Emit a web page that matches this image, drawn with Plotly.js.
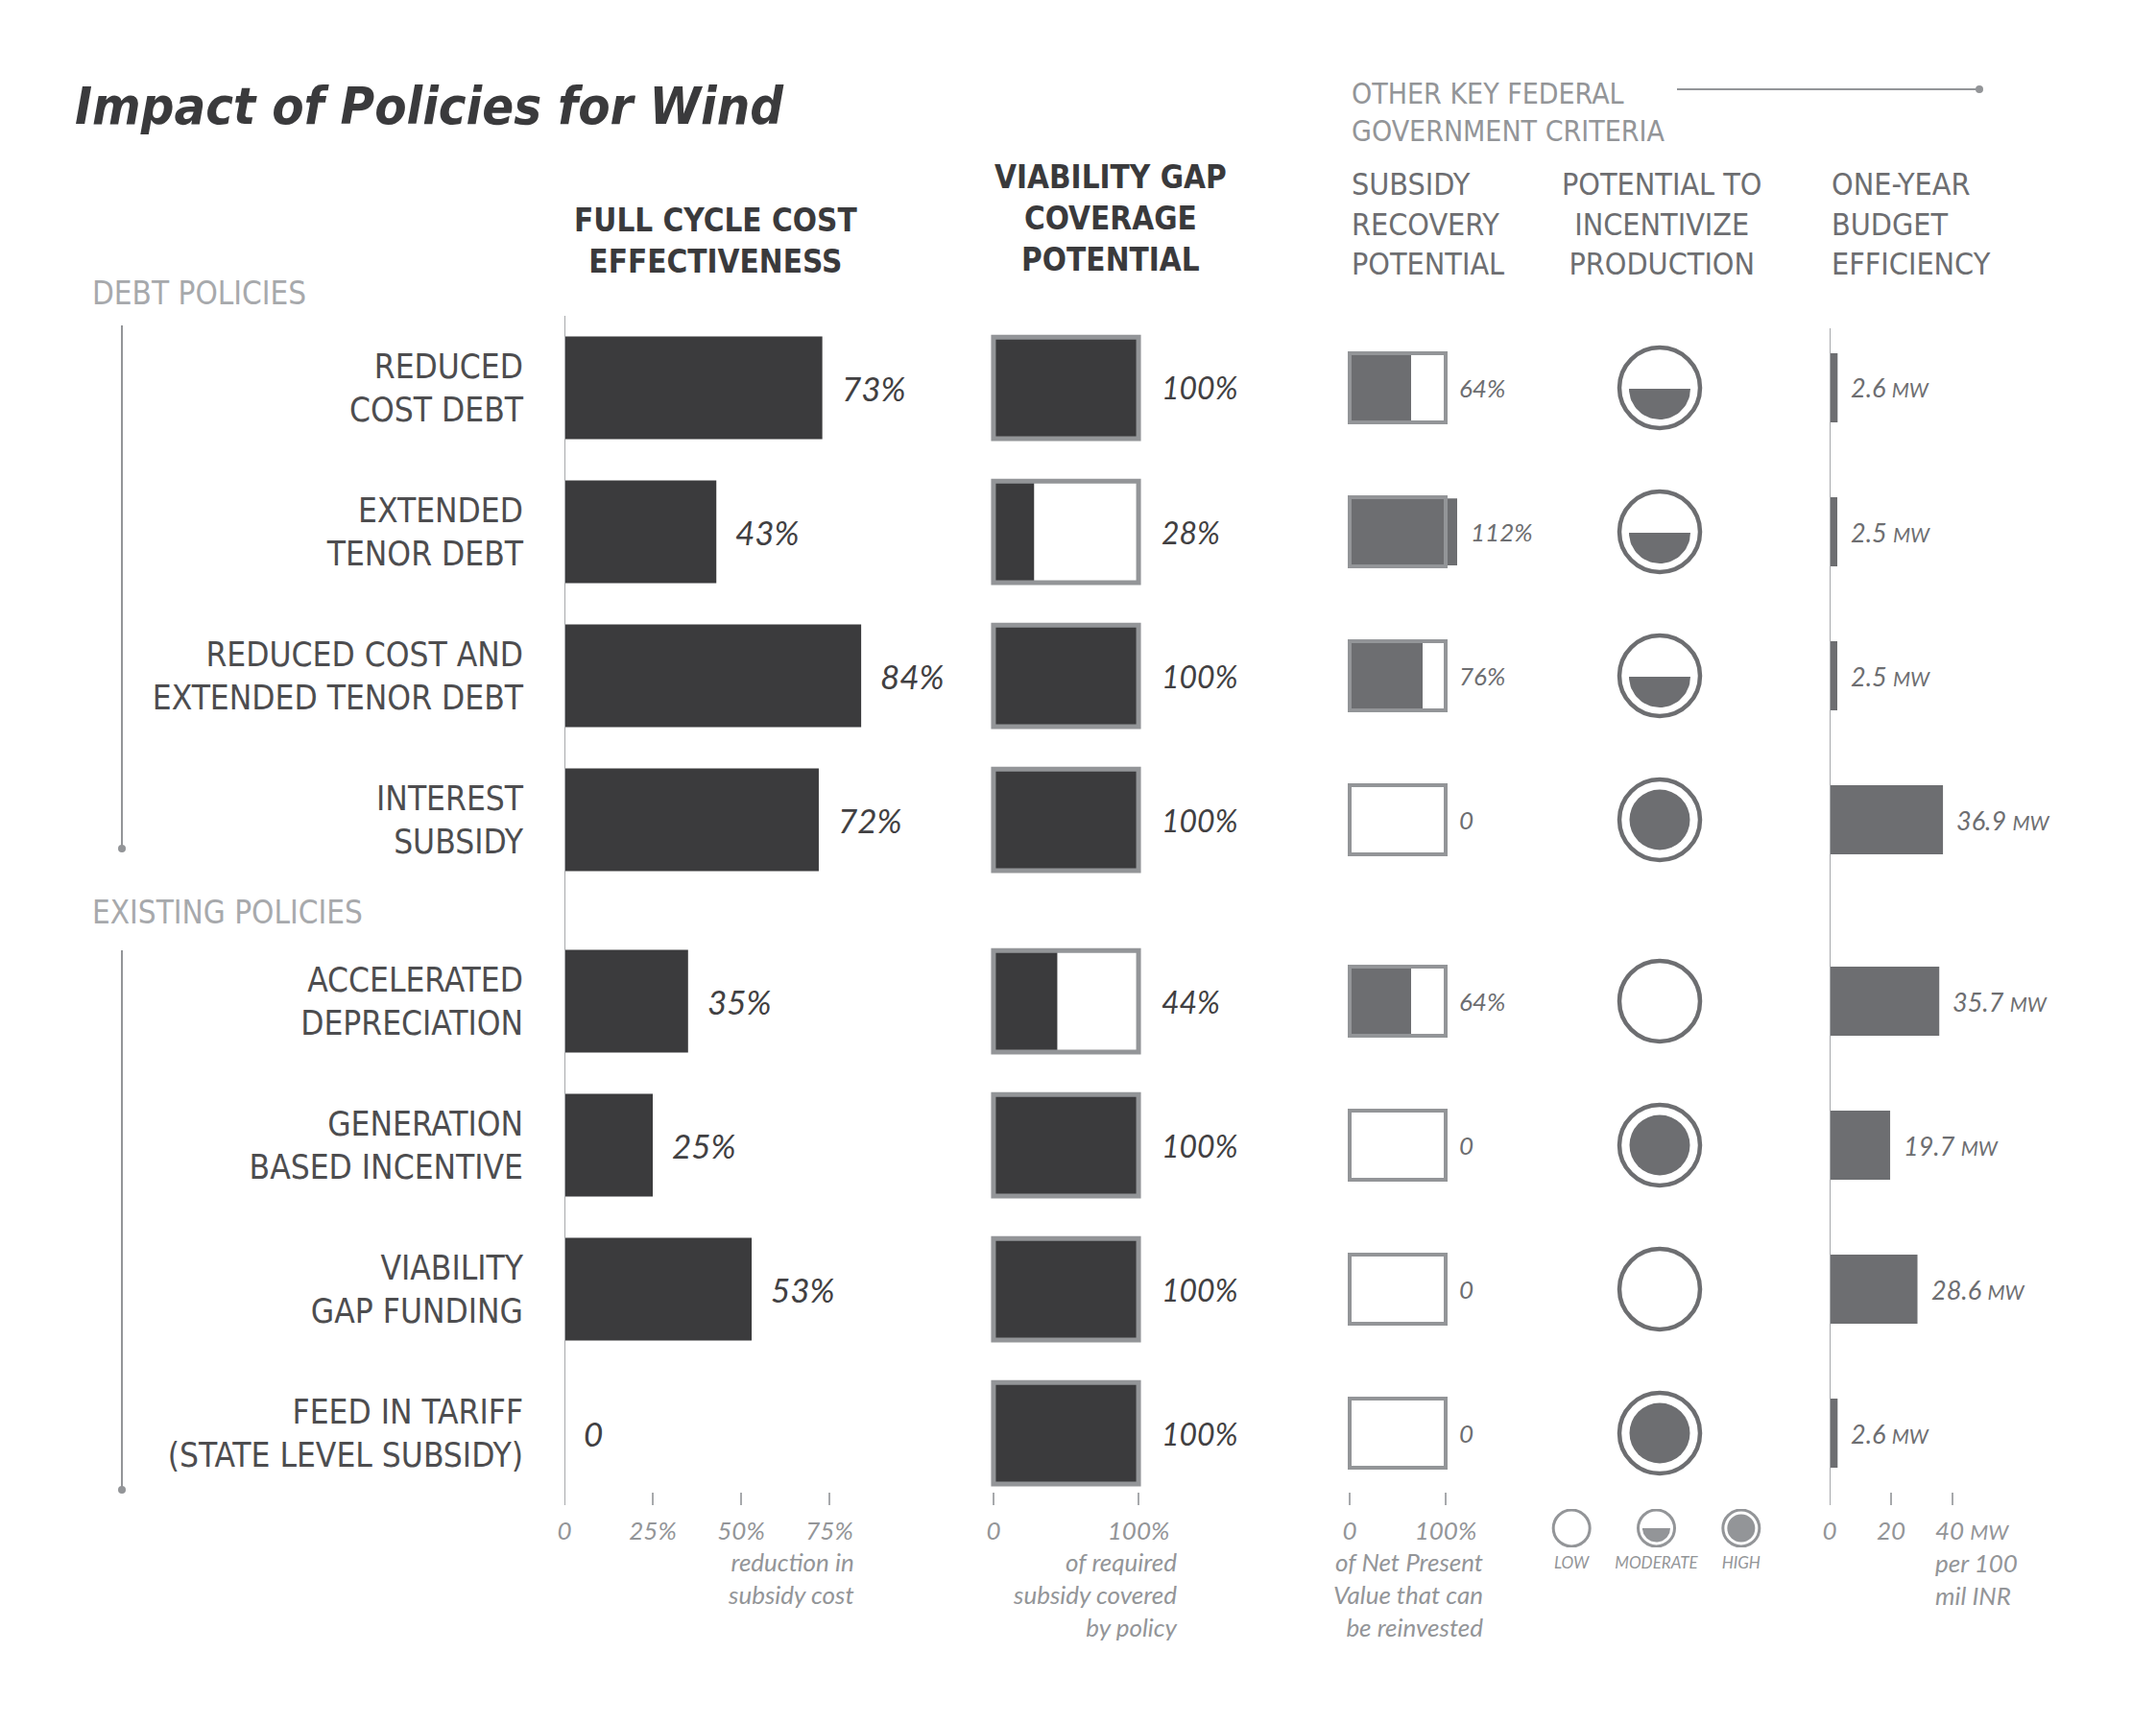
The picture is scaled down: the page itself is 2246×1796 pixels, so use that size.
<!DOCTYPE html>
<html>
<head>
<meta charset="utf-8">
<script src="https://cdn.plot.ly/plotly-3.0.1.min.js"></script>
<style>
  html, body { margin: 0; padding: 0; background: #fff; }
  #chart { width: 2246px; height: 1796px; }
</style>
</head>
<body>
<div id="chart"></div>
<script>
// policies, top group then bottom group
var debtPolicies = ['REDUCED<br>COST DEBT', 'EXTENDED<br>TENOR DEBT', 'REDUCED COST AND<br>EXTENDED TENOR DEBT', 'INTEREST<br>SUBSIDY'];
var existingPolicies = ['ACCELERATED<br>DEPRECIATION', 'GENERATION<br>BASED INCENTIVE', 'VIABILITY<br>GAP FUNDING', 'FEED IN TARIFF<br>(STATE LEVEL SUBSIDY)'];

var costEffectiveness = [73, 43, 84, 72, 35, 25, 53, 0];        // % reduction in subsidy cost
var gapCoverage = [100, 28, 100, 100, 44, 100, 100, 100];        // % of required subsidy covered
var subsidyRecovery = [64, 112, 76, 0, 64, 0, 0, 0];            // % of NPV that can be reinvested
var productionPotential = ['MODERATE', 'MODERATE', 'MODERATE', 'HIGH', 'LOW', 'HIGH', 'LOW', 'HIGH'];
var budgetEfficiency = [2.6, 2.5, 2.5, 36.9, 35.7, 19.7, 28.6, 2.6]; // MW per 100 mil INR

var levels = ['LOW', 'MODERATE', 'HIGH'];
var costTicks = [0, 25, 50, 75];
var costTickText = ['0', '25%', '50%', '75%'];
var pctTicks = [0, 100];
var pctTickText = ['0', '100%'];
var budgetTicks = [0, 20, 40];
var budgetTickText = ['0', '20', ''];

var W = 2246, H = 1796;
function px(x) { return x / W; }
function py(y) { return 1 - y / H; }

var NARROW = '"Liberation Sans Narrow", "DejaVu Sans Condensed", Roboto, sans-serif';
var HUMAN = 'Lato, "Open Sans", sans-serif';
var DARK = '#3b3b3d', MID = '#6d6e71', LIGHT = '#939598', PALE = '#a7a9ac', TEXT = '#414042';

// group geometry
var g1Top = 329, g1Bot = 929, g2Top = 968, g2Bot = 1568;
var rowPx = (g1Bot - g1Top) / 4;
var groups = [
  {yaxis: 'y', start: 0},
  {yaxis: 'y2', start: 4}
];
var rows = [0, 1, 2, 3];

var data = [];
var annotations = [];

function halfDisk(cx, cy, r, unitX, unitY, sign) {
  var xs = [], ys = [];
  for (var k = 0; k <= 40; k++) {
    var t = Math.PI * k / 40;
    xs.push(cx + r * Math.cos(t) / unitX);
    ys.push(cy + sign * r * Math.sin(t) / unitY);
  }
  return {x: xs, y: ys};
}

groups.forEach(function (g) {
  var sl = function (arr) { return arr.slice(g.start, g.start + 4); };
  var cost = sl(costEffectiveness), gap = sl(gapCoverage), rec = sl(subsidyRecovery);
  var prod = sl(productionPotential), bud = sl(budgetEfficiency);

  // full cycle cost effectiveness
  data.push({type: 'bar', orientation: 'h', x: cost, y: rows, xaxis: 'x', yaxis: g.yaxis,
    width: 0.713, marker: {color: DARK}, hoverinfo: 'skip'});

  // viability gap coverage: fill + outlined box
  data.push({type: 'bar', orientation: 'h', x: gap, y: rows, xaxis: 'x2', yaxis: g.yaxis,
    width: 0.68, marker: {color: DARK}, hoverinfo: 'skip'});
  data.push({type: 'bar', orientation: 'h', x: rows.map(function () { return 100; }), y: rows,
    xaxis: 'x2', yaxis: g.yaxis, width: 0.705,
    marker: {color: 'rgba(0,0,0,0)', line: {color: LIGHT, width: 5}}, hoverinfo: 'skip'});

  // subsidy recovery
  data.push({type: 'bar', orientation: 'h', x: rec, y: rows, xaxis: 'x3', yaxis: g.yaxis,
    width: 0.465, marker: {color: MID}, hoverinfo: 'skip'});
  data.push({type: 'bar', orientation: 'h', x: rows.map(function () { return 100; }), y: rows,
    xaxis: 'x3', yaxis: g.yaxis, width: 0.48,
    marker: {color: 'rgba(0,0,0,0)', line: {color: LIGHT, width: 4}}, hoverinfo: 'skip'});

  // potential to incentivize production
  data.push({type: 'scatter', mode: 'markers', x: rows.map(function () { return 0; }), y: rows,
    xaxis: 'x4', yaxis: g.yaxis, hoverinfo: 'skip',
    marker: {symbol: 'circle-open', size: 84, color: MID, line: {width: 4.5, color: MID}}});
  var highRows = rows.filter(function (r) { return prod[r] === 'HIGH'; });
  data.push({type: 'scatter', mode: 'markers', x: highRows.map(function () { return 0; }), y: highRows,
    xaxis: 'x4', yaxis: g.yaxis, hoverinfo: 'skip',
    marker: {symbol: 'circle', size: 63, color: MID}});
  rows.filter(function (r) { return prod[r] === 'MODERATE'; }).forEach(function (r) {
    var hd = halfDisk(0, r + 1 / rowPx, 32, 1, rowPx, 1);
    data.push({type: 'scatter', mode: 'lines', x: hd.x, y: hd.y, xaxis: 'x4', yaxis: g.yaxis,
      fill: 'toself', fillcolor: MID, line: {width: 0, color: MID}, hoverinfo: 'skip'});
  });

  // one-year budget efficiency
  data.push({type: 'bar', orientation: 'h', x: bud, y: rows, xaxis: 'x5', yaxis: g.yaxis,
    width: 0.48, marker: {color: MID}, hoverinfo: 'skip'});

  rows.forEach(function (r) {
    annotations.push({xref: 'x', yref: g.yaxis, x: cost[r], y: r, xanchor: 'left', xshift: 18,
      showarrow: false, text: cost[r] === 0 ? '0' : cost[r] + '%',
      font: {family: HUMAN, size: 35, style: 'italic', color: TEXT}});
    annotations.push({xref: 'x2', yref: g.yaxis, x: 100, y: r, xanchor: 'left', xshift: 22,
      showarrow: false, text: gap[r] + '%',
      font: {family: HUMAN, size: 32, style: 'italic', color: TEXT}});
    annotations.push({xref: 'x3', yref: g.yaxis, x: Math.max(rec[r], 100), y: r, xanchor: 'left', xshift: 12,
      showarrow: false, text: rec[r] === 0 ? '0' : rec[r] + '%',
      font: {family: HUMAN, size: 26, style: 'italic', color: MID}});
    annotations.push({xref: 'x5', yref: g.yaxis, x: bud[r], y: r, xanchor: 'left', xshift: 12,
      showarrow: false, text: bud[r] + ' <span style="font-size:21px">MW</span>',
      font: {family: HUMAN, size: 27, style: 'italic', color: MID}});
  });
});

// key for production potential
var keyUnitX = (1858 - 1593) / 3, keyUnitY = (1612 - 1572) / 2;
data.push({type: 'scatter', mode: 'markers', x: [0, 1, 2], y: [0, 0, 0], xaxis: 'x6', yaxis: 'y3',
  hoverinfo: 'skip', marker: {symbol: 'circle-open', size: 38, color: LIGHT, line: {width: 3, color: LIGHT}}});
data.push({type: 'scatter', mode: 'markers', x: [levels.indexOf('HIGH')], y: [0], xaxis: 'x6', yaxis: 'y3',
  hoverinfo: 'skip', marker: {symbol: 'circle', size: 29, color: LIGHT}});
var keyHalf = halfDisk(levels.indexOf('MODERATE'), 0, 14.5, keyUnitX, keyUnitY, -1);
data.push({type: 'scatter', mode: 'lines', x: keyHalf.x, y: keyHalf.y, xaxis: 'x6', yaxis: 'y3',
  fill: 'toself', fillcolor: LIGHT, line: {width: 0, color: LIGHT}, hoverinfo: 'skip'});

var tickFont = {family: HUMAN, size: 26, style: 'italic', color: LIGHT};
function xAxis(d0, d1, range, ticks, text) {
  return {domain: [px(d0), px(d1)], range: range, anchor: 'y2', fixedrange: true,
    showgrid: false, zeroline: false, showline: false,
    tickmode: 'array', tickvals: ticks || [], ticktext: text || [],
    ticks: ticks ? 'inside' : '', ticklen: 13, tickwidth: 2, tickcolor: PALE,
    ticklabelstandoff: 9, tickfont: tickFont, showticklabels: !!ticks};
}
function yAxis(top, bot, labels) {
  return {domain: [py(bot), py(top)], range: [3.5, -0.5], anchor: 'x', fixedrange: true,
    showgrid: false, zeroline: false, showline: false, ticks: '',
    tickmode: 'array', tickvals: rows, ticktext: labels, ticklabelstandoff: 42,
    tickfont: {family: NARROW, size: 35, color: '#4d4d4f'}};
}

function note(text, x, y, xanchor, font, align) {
  annotations.push({xref: 'paper', yref: 'paper', x: px(x), y: py(y), xanchor: xanchor, yanchor: 'middle',
    align: align || xanchor, showarrow: false, text: text, font: font});
}
var headBold = {family: NARROW, size: 33, weight: 700, color: '#3a3a3c'};
var headLight = {family: NARROW, size: 32, color: MID};
var subFont = {family: HUMAN, size: 26, style: 'italic', color: LIGHT};

note('Impact of Policies for Wind', 76, 110, 'left', {family: NARROW, size: 54, weight: 700, style: 'italic', color: '#3a3a3c'});
note('FULL CYCLE COST<br>EFFECTIVENESS', 745, 251, 'center', headBold);
note('VIABILITY GAP<br>COVERAGE<br>POTENTIAL', 1157, 228, 'center', headBold);
note('OTHER KEY FEDERAL<br>GOVERNMENT CRITERIA', 1406, 117, 'left', {family: NARROW, size: 30, color: LIGHT});
note('SUBSIDY<br>RECOVERY<br>POTENTIAL', 1406, 233, 'left', headLight);
note('POTENTIAL TO<br>INCENTIVIZE<br>PRODUCTION', 1731, 233, 'center', headLight);
note('ONE-YEAR<br>BUDGET<br>EFFICIENCY', 1906, 233, 'left', headLight);
note('DEBT POLICIES', 94, 306, 'left', {family: NARROW, size: 33, color: PALE});
note('EXISTING POLICIES', 94, 950, 'left', {family: NARROW, size: 33, color: PALE});

note('reduction in<br>subsidy cost', 892, 1644, 'right', subFont);
note('of required<br>subsidy covered<br>by policy', 1228, 1661, 'right', subFont);
note('of Net Present<br>Value that can<br>be reinvested', 1547, 1661, 'right', subFont);
note('40 <span style="font-size:22px">MW</span><br>per 100<br>mil INR', 2014, 1628, 'left', subFont);

var shapes = [
  {type: 'line', xref: 'x', yref: 'paper', x0: 0, x1: 0, y0: py(g1Top), y1: py(g2Bot), line: {color: PALE, width: 2}},
  {type: 'line', xref: 'x5', yref: 'paper', x0: 0, x1: 0, y0: py(342), y1: py(g2Bot), line: {color: PALE, width: 2}},
  {type: 'line', xref: 'paper', yref: 'paper', x0: px(127), x1: px(127), y0: py(339), y1: py(884), line: {color: LIGHT, width: 2}},
  {type: 'line', xref: 'paper', yref: 'paper', x0: px(127), x1: px(127), y0: py(990), y1: py(1552), line: {color: LIGHT, width: 2}},
  {type: 'line', xref: 'paper', yref: 'paper', x0: px(1747), x1: px(2062), y0: py(93), y1: py(93), line: {color: LIGHT, width: 2}}
];
[[127, 884], [127, 1552], [2062, 93]].forEach(function (d) {
  shapes.push({type: 'circle', xref: 'paper', yref: 'paper', x0: px(d[0] - 4), x1: px(d[0] + 4),
    y0: py(d[1] + 4), y1: py(d[1] - 4), fillcolor: LIGHT, line: {width: 0}});
});

var layout = {
  width: W, height: H,
  margin: {l: 0, r: 0, t: 0, b: 0},
  paper_bgcolor: '#fff', plot_bgcolor: 'rgba(0,0,0,0)',
  showlegend: false, barmode: 'overlay',
  xaxis: xAxis(588, 956, [0, 100], costTicks, costTickText),
  xaxis2: xAxis(1031, 1190, [-2.6, 102.6], pctTicks, pctTickText),
  xaxis3: xAxis(1402, 1566, [-4, 160], pctTicks, pctTickText),
  xaxis4: xAxis(1629, 1829, [-100, 100]),
  xaxis5: xAxis(1906, 2098, [0, 60], budgetTicks, budgetTickText),
  xaxis6: {domain: [px(1593), px(1858)], range: [-0.5, 2.5], anchor: 'y3', fixedrange: true,
    showgrid: false, zeroline: false, showline: false, ticks: '',
    tickmode: 'array', tickvals: [0, 1, 2], ticktext: levels, ticklabelstandoff: 4,
    tickfont: {family: HUMAN, size: 17, style: 'italic', color: LIGHT}},
  yaxis: yAxis(g1Top, g1Bot, debtPolicies),
  yaxis2: yAxis(g2Top, g2Bot, existingPolicies),
  yaxis3: {domain: [py(1612), py(1572)], range: [-1, 1], anchor: 'x6', fixedrange: true,
    showgrid: false, zeroline: false, showline: false, showticklabels: false, ticks: ''},
  annotations: annotations,
  shapes: shapes
};

Plotly.newPlot('chart', data, layout, {displayModeBar: false, staticPlot: true});
</script>
</body>
</html>
